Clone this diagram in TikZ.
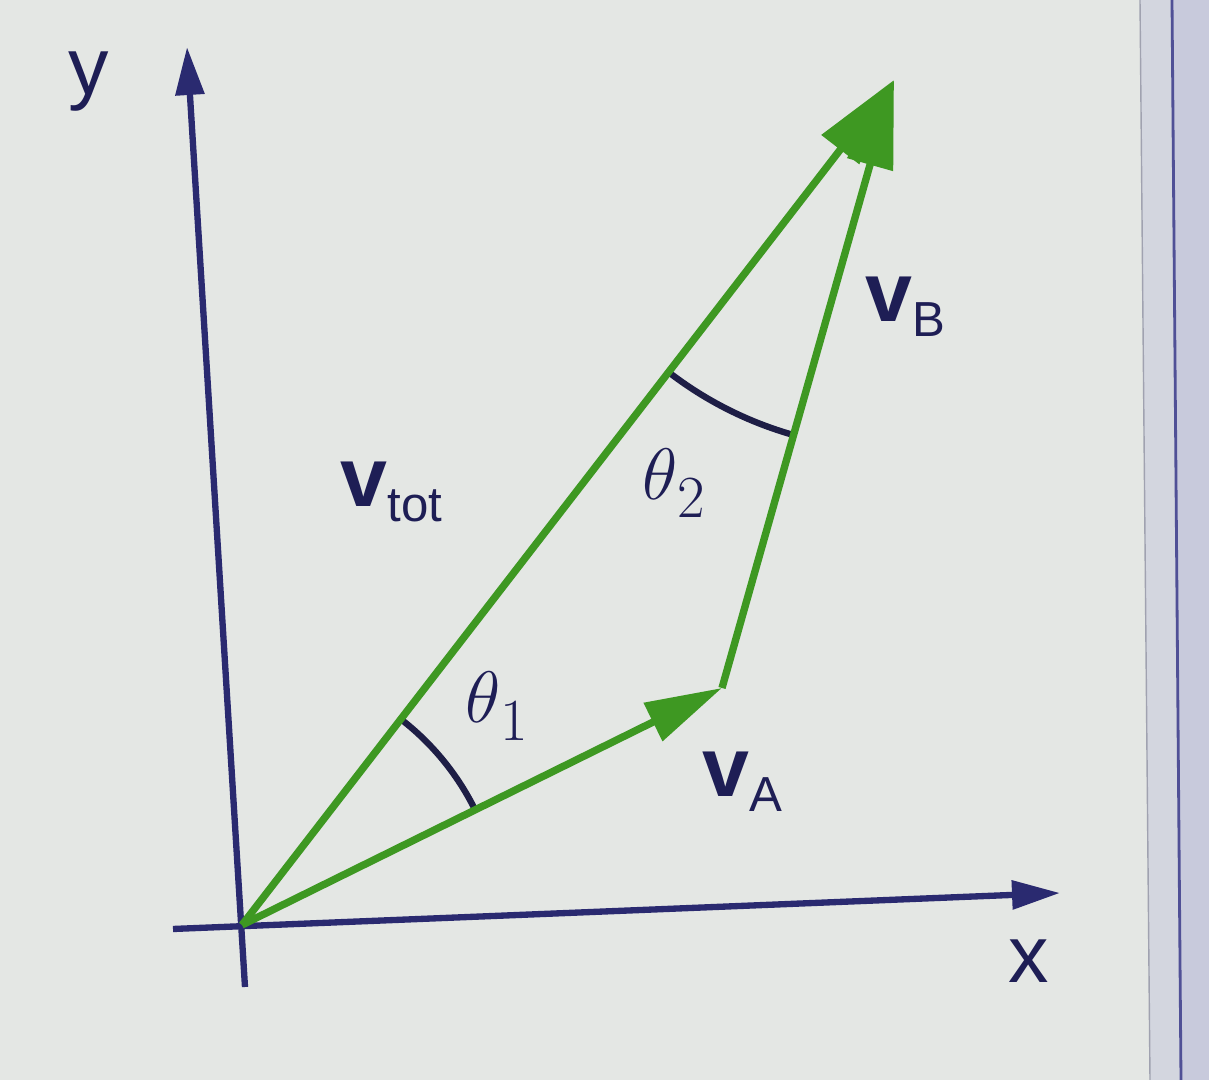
\documentclass[tikz,border=0pt]{standalone}
\usepackage{fontspec}
\setsansfont{Liberation Sans}
\usetikzlibrary{positioning,arrows.meta,angles}
\definecolor{paper}{RGB}{228,231,228}
\definecolor{panel}{RGB}{200,202,220}
\definecolor{panelline}{RGB}{80,80,150}
\definecolor{vecgreen}{RGB}{62,152,34}
\definecolor{axisblue}{RGB}{42,42,112}
\definecolor{arcnavy}{RGB}{30,30,70}
\definecolor{labelblue}{RGB}{30,30,85}
\newcommand{\vlabel}[1]{{\fontsize{24}{24}\selectfont\bfseries v}\raisebox{-1.5mm}{\fontsize{14}{14}\selectfont #1}}
\newcommand{\anglelabel}[1]{{\fontsize{21}{21}\selectfont$\theta$}\raisebox{-1.8mm}{\fontsize{17}{17}\selectfont\rmfamily #1}}
\begin{document}
\begin{tikzpicture}[
  >=Stealth,
  vec/.style={draw=vecgreen, line width=2.1pt},
  axis/.style={draw=axisblue, line width=1.8pt, -{Triangle[length=4.8mm,width=2.8mm]}},
  lbl/.style={text=labelblue, inner sep=0pt, anchor=base west, font=\sffamily},
  arcline/.style={draw=arcnavy, line width=1.8pt}
]
% screen background and frame at the right
\fill[paper] (0,0) rectangle (12.09,10.80);
\useasboundingbox (0,0) rectangle (12.09,10.80);
\fill[panel!60!paper] (11.40,10.80) -- (12.09,10.80) -- (12.09,0) -- (11.50,0) -- cycle;
\fill[panel] (11.72,10.80) -- (12.09,10.80) -- (12.09,0) -- (11.81,0) -- cycle;
\draw[panelline, line width=0.8pt] (11.72,10.80) -- (11.81,0);
\draw[panel!80!black, line width=0.4pt] (11.40,10.80) -- (11.50,0);

% axes
\coordinate (ybot) at (2.45,0.93);
\coordinate (ytop) at (1.87,10.33);
\coordinate (xleft) at (1.73,1.51);
\coordinate (xright) at (10.60,1.87);
\draw[axis] (ybot) -- (ytop);
\draw[axis] (xleft) -- (xright);

% vectors
\coordinate (O) at (2.42,1.55);
\coordinate (A) at (7.22,3.92);
\coordinate (B) at (8.94,10.00);

\pic[arcline, angle radius=26mm] {angle=A--O--B};
\pic[arcline, angle radius=36.9mm] {angle=O--B--A};

\draw[vec, -{Triangle[length=7.7mm,width=4.1mm]}] (O) -- (A);
\draw[vec, -{Triangle[length=8.8mm,width=4.6mm]}] (A) -- (B);
\draw[vec, -{Triangle[length=8.8mm,width=4.6mm]}] (O) -- (B);

% labels
\node[lbl] (ylbl) at (0.68,9.85) {\fontsize{23}{23}\selectfont y};
\node[lbl] (xlbl) at (10.08,0.97) {\fontsize{23}{23}\selectfont x};
\node[lbl] (vtot) at (3.40,5.73) {\vlabel{tot}};
\node[lbl] (vB) at (8.65,7.58) {\vlabel{B}};
\node[lbl] (vA) at (7.02,2.83) {\vlabel{A}};
\node[lbl] (th1) at (4.65,3.57) {\anglelabel{1}};
\node[lbl] (th2) at (6.42,5.80) {\anglelabel{2}};
\end{tikzpicture}
\end{document}
